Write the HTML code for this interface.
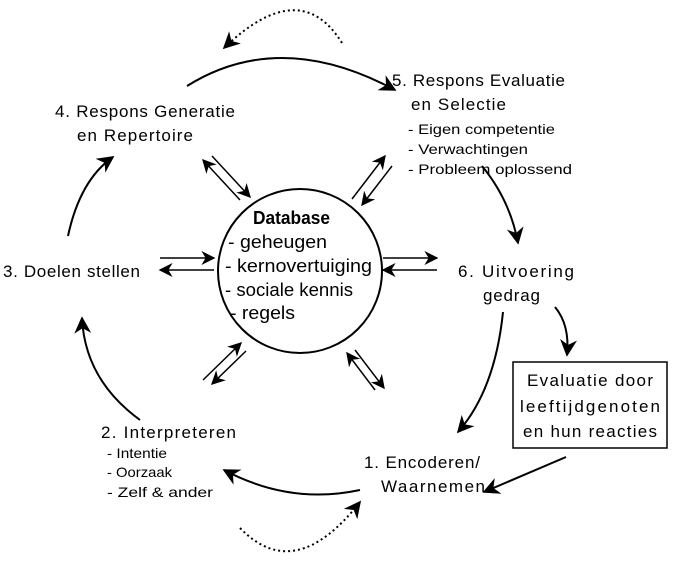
<!DOCTYPE html>
<html><head><meta charset="utf-8"><style>
body{margin:0;background:#fff;width:685px;height:563px;overflow:hidden}
svg text{font-family:"Liberation Sans",sans-serif;fill:#000}
</style></head><body>
<svg width="685" height="563" viewBox="0 0 685 563">
<defs>
<marker id="b" viewBox="0 0 10 10" refX="9" refY="5" markerWidth="17" markerHeight="17" orient="auto" markerUnits="userSpaceOnUse">
<path d="M0,0 L10,5 L0,10 L3,5 Z" fill="#000"/></marker>
<marker id="c" viewBox="0 0 10 10" refX="9" refY="5" markerWidth="14" markerHeight="14" orient="auto" markerUnits="userSpaceOnUse">
<path d="M0,0 L10,5 L0,10 L3,5 Z" fill="#000"/></marker>
</defs>
<g fill="none" stroke="#000" stroke-width="2">
<circle cx="300" cy="271" r="82"/>
<rect x="513" y="362" width="154" height="86" stroke-width="1.5"/>
<path d="M342,43 Q300,-25 224,48" stroke-dasharray="2,3" marker-end="url(#b)"/>
<path d="M187,86 Q280,28 395,90" marker-end="url(#b)"/>
<path d="M482,166 Q510,200 518,243" marker-end="url(#b)"/>
<path d="M555,307 Q570,325 567,355" marker-end="url(#b)"/>
<path d="M503,312 Q495,390 458,432" marker-end="url(#b)"/>
<path d="M566,457 L484,492" marker-end="url(#b)"/>
<path d="M360,490 Q290,505 224,470" marker-end="url(#b)"/>
<path d="M240,528 Q295,585 360,502" stroke-dasharray="2,3" marker-end="url(#b)"/>
<path d="M140,420 Q85,380 82,318" marker-end="url(#b)"/>
<path d="M68,236 Q80,180 113,157" marker-end="url(#b)"/>
<g stroke-width="1.5">
<path d="M160,258 L214,258" marker-end="url(#c)"/>
<path d="M214,270 L160,270" marker-end="url(#c)"/>
<path d="M383,258 L437,258" marker-end="url(#c)"/>
<path d="M437,270 L383,270" marker-end="url(#c)"/>
<path d="M212,156 L250,197" marker-end="url(#c)"/>
<path d="M240,200 L203,160" marker-end="url(#c)"/>
<path d="M352,199 L385,156" marker-end="url(#c)"/>
<path d="M392,166 L362,205" marker-end="url(#c)"/>
<path d="M203,380 L241,343" marker-end="url(#c)"/>
<path d="M246,351 L212,384" marker-end="url(#c)"/>
<path d="M355,350 L384,388" marker-end="url(#c)"/>
<path d="M375,390 L347,353" marker-end="url(#c)"/>
</g>
</g>
<g font-size="17" lengthAdjust="spacingAndGlyphs">
<text x="392" y="86" textLength="173">5. Respons Evaluatie</text>
<text x="411" y="110" textLength="95">en Selectie</text>
<text x="55" y="117" textLength="180">4. Respons Generatie</text>
<text x="77" y="141" textLength="116">en Repertoire</text>
<text x="3" y="277" textLength="137">3. Doelen stellen</text>
<text x="458" y="277" textLength="116">6. Uitvoering</text>
<text x="483" y="301" textLength="57">gedrag</text>
<text x="101" y="438" textLength="135">2. Interpreteren</text>
<text x="364" y="468" textLength="116">1. Encoderen/</text>
<text x="381" y="492" textLength="104">Waarnemen</text>
<text x="527" y="386" textLength="126">Evaluatie door</text>
<text x="520" y="412" textLength="140">leeftijdgenoten</text>
<text x="523" y="437" textLength="134">en hun reacties</text>
</g>
<g font-size="18">
<text x="253" y="224" font-weight="bold" textLength="77" lengthAdjust="spacingAndGlyphs">Database</text>
<text x="228" y="248" textLength="99" lengthAdjust="spacingAndGlyphs">- geheugen</text>
<text x="225" y="272" textLength="147" lengthAdjust="spacingAndGlyphs">- kernovertuiging</text>
<text x="225" y="296" textLength="128" lengthAdjust="spacingAndGlyphs">- sociale kennis</text>
<text x="230" y="319" textLength="65" lengthAdjust="spacingAndGlyphs">- regels</text>
</g>
<g font-size="14">
<text x="408" y="134" textLength="147" lengthAdjust="spacingAndGlyphs">- Eigen competentie</text>
<text x="408" y="154" textLength="120" lengthAdjust="spacingAndGlyphs">- Verwachtingen</text>
<text x="408" y="174" textLength="164" lengthAdjust="spacingAndGlyphs">- Probleem oplossend</text>
<text x="107" y="458" textLength="60" lengthAdjust="spacingAndGlyphs">- Intentie</text>
<text x="107" y="477" textLength="65" lengthAdjust="spacingAndGlyphs">- Oorzaak</text>
<text x="107" y="497" textLength="106" lengthAdjust="spacingAndGlyphs">- Zelf &amp; ander</text>
</g>
</svg>
</body></html>
